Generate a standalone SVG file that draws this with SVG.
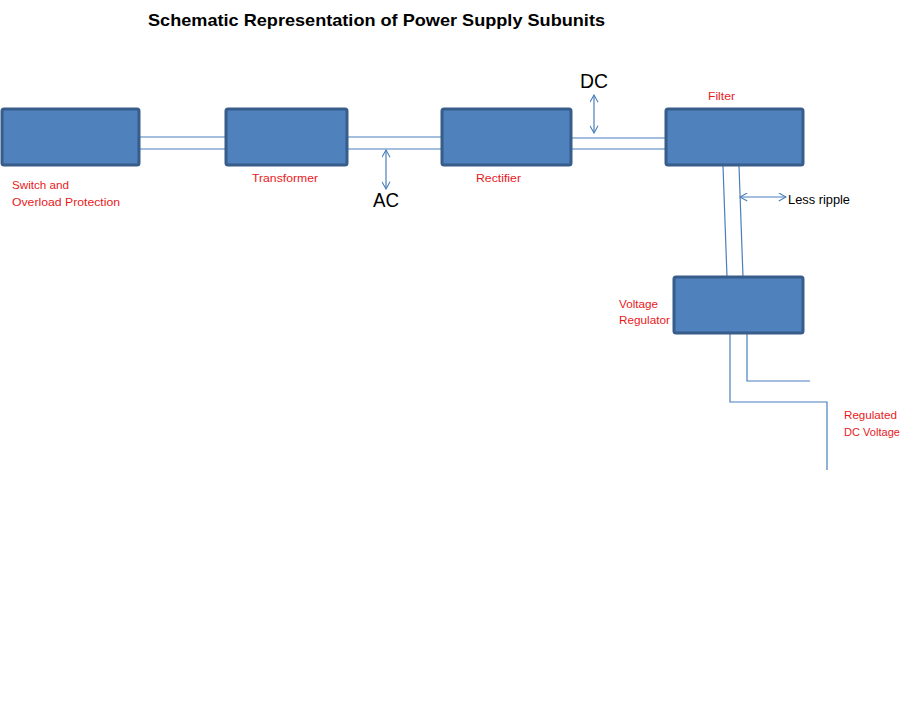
<svg xmlns="http://www.w3.org/2000/svg" width="915" height="705" viewBox="0 0 915 705">
<defs>
<style>
.box{fill:#4f81bd;stroke:#385d8a;stroke-width:3}
.ln{fill:none;stroke:#4a7ebb;stroke-width:1.2}
.red{font-family:"Liberation Sans",Arial,sans-serif;font-size:11px;fill:#e8191c}
.big{font-family:"Liberation Sans",Arial,sans-serif;font-size:20px;fill:#000}
.blk{font-family:"Liberation Sans",Arial,sans-serif;font-size:12.5px;fill:#000}
.title{font-family:"Liberation Sans",Arial,sans-serif;font-size:17px;font-weight:bold;fill:#000}
</style>
<marker id="ah" viewBox="0 0 10 10" refX="9" refY="5" markerWidth="9" markerHeight="9" markerUnits="userSpaceOnUse" orient="auto-start-reverse">
<path d="M1,0.5 L9,5 L1,9.5" fill="none" stroke="#4a7ebb" stroke-width="1.2"/>
</marker>
</defs>
<rect width="915" height="705" fill="#fff"/>
<text class="title" x="148" y="26" textLength="457" lengthAdjust="spacingAndGlyphs">Schematic Representation of Power Supply Subunits</text>
<g id="connectors">
<line class="ln" x1="139" y1="137" x2="226" y2="137"/>
<line class="ln" x1="139" y1="149" x2="226" y2="149"/>
<line class="ln" x1="347" y1="137" x2="442" y2="137"/>
<line class="ln" x1="347" y1="149" x2="442" y2="149"/>
<line class="ln" x1="571" y1="138" x2="666" y2="138"/>
<line class="ln" x1="571" y1="149" x2="666" y2="149"/>
<line class="ln" x1="723" y1="166" x2="727" y2="277"/>
<line class="ln" x1="739" y1="166" x2="743" y2="277"/>
<polyline class="ln" points="730,333 730,402 827,402 827,470"/>
<polyline class="ln" points="747,333 747,381 810,381"/>
<line class="ln" x1="386" y1="150" x2="386" y2="189" marker-start="url(#ah)" marker-end="url(#ah)"/>
<line class="ln" x1="594" y1="95" x2="594" y2="133" marker-start="url(#ah)" marker-end="url(#ah)"/>
<line class="ln" x1="740" y1="197" x2="786" y2="197" marker-start="url(#ah)" marker-end="url(#ah)"/>
</g>
<g id="switch">
<rect class="box" x="2" y="109" width="137" height="56" rx="2"/>
<text class="red" x="12" y="189" textLength="57" lengthAdjust="spacingAndGlyphs">Switch and</text>
<text class="red" x="12" y="206" textLength="108" lengthAdjust="spacingAndGlyphs">Overload Protection</text>
</g>
<g id="transformer">
<rect class="box" x="226" y="109" width="121" height="56" rx="2"/>
<text class="red" x="252" y="182" textLength="66" lengthAdjust="spacingAndGlyphs">Transformer</text>
</g>
<g id="rectifier">
<rect class="box" x="442" y="109" width="129" height="56" rx="2"/>
<text class="red" x="476" y="182" textLength="45" lengthAdjust="spacingAndGlyphs">Rectifier</text>
</g>
<g id="filter">
<rect class="box" x="666" y="109" width="137" height="56" rx="2"/>
<text class="red" x="708" y="100" textLength="27" lengthAdjust="spacingAndGlyphs">Filter</text>
</g>
<g id="regulator">
<rect class="box" x="674" y="277" width="129" height="56" rx="2"/>
<text class="red" x="619" y="308" textLength="39" lengthAdjust="spacingAndGlyphs">Voltage</text>
<text class="red" x="619" y="324" textLength="51" lengthAdjust="spacingAndGlyphs">Regulator</text>
</g>
<g id="labels">
<text class="big" x="373" y="207" textLength="26" lengthAdjust="spacingAndGlyphs">AC</text>
<text class="big" x="580" y="88" textLength="28" lengthAdjust="spacingAndGlyphs">DC</text>
<text class="blk" x="788" y="204" textLength="62" lengthAdjust="spacingAndGlyphs">Less ripple</text>
<text class="red" x="844" y="419" textLength="53" lengthAdjust="spacingAndGlyphs">Regulated</text>
<text class="red" x="844" y="436" textLength="56" lengthAdjust="spacingAndGlyphs">DC Voltage</text>
</g>
</svg>
